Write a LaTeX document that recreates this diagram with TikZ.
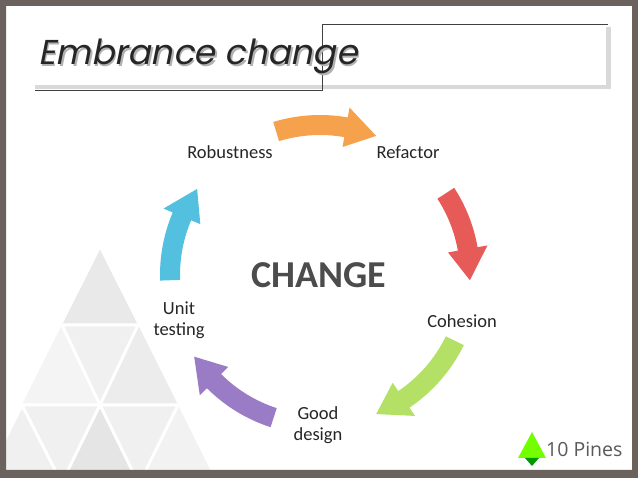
\documentclass[tikz,border=0pt]{standalone}
\usepackage{fontspec}
\usetikzlibrary{calc}
\setmainfont{Carlito}
\newfontfamily\titlefont[FakeSlant=0.2]{Poppins}
\newfontfamily\logofont{Open Sans}
\definecolor{framec}{HTML}{6B625E}
\definecolor{aor}{HTML}{F6A24C}
\definecolor{are}{HTML}{E65A58}
\definecolor{agr}{HTML}{B4E066}
\definecolor{apu}{HTML}{9A7CC6}
\definecolor{acy}{HTML}{52C0DE}
\begin{document}
\begin{tikzpicture}[x=1pt,y=-1pt,
  lbl/.style={font=\fontsize{18.5}{21}\selectfont, text=black!85, align=center, inner sep=0pt}]
\useasboundingbox (0,0) rectangle (638,478);
\fill[white] (0,0) rectangle (638,478);
% pyramid
\begin{scope}
\clip (6,6) rectangle (632,470);
\fill[gray!12] (100,250) -- (210,470) -- (-10,470) -- cycle;
\fill[gray!17] (100,250) -- (138,325) -- (62,325) -- cycle;
\fill[gray!9] (62,325) -- (100,405) -- (22,405) -- cycle;
\fill[gray!15] (138,325) -- (178,405) -- (100,405) -- cycle;
\fill[gray!20] (100,405) -- (132,470) -- (68,470) -- cycle;
\fill[gray!10] (178,405) -- (210,470) -- (146,470) -- cycle;
\draw[white,line width=3pt] (62,325) -- (138,325) (22,405) -- (178,405)
  (62,325) -- (100,405) -- (138,325) (22,405) -- (-10,470) (100,405) -- (68,470) (100,405) -- (132,470)
  (178,405) -- (146,470) (22,405) -- (55,470);
\end{scope}
% frame
\fill[framec, even odd rule] (0,0) rectangle (638,478) (6,6) rectangle (632,470);
% title box
\fill[gray!30] (606,27) rectangle (611,88);
\fill[gray!30] (35,85) rectangle (611,89);
\draw[black!75,line width=0.8pt] (608,24) -- (322,24) -- (322,90) -- (35,90);
\node[anchor=base west, inner sep=0pt, text=gray!60] (tsh) at (39.5,66.5) {\titlefont\fontsize{34.5}{40}\selectfont Embrance change};
\node[anchor=base west, inner sep=0pt, text=black!85] (title) at (38,65) {\titlefont\fontsize{34.5}{40}\selectfont Embrance change};
% arrows
\newcommand\barrow[3]{%
 \pgfmathsetmacro\ab{#2-12}%
 \fill[#3] (320,275) ++(#1:160) arc[start angle=#1,end angle=\ab,radius=160]
   -- ($(320,275)+(\ab:170)$) -- ($(320,275)+(#2:150)$) -- ($(320,275)+(\ab:130)$)
   -- ($(320,275)+(\ab:140)$) arc[start angle=\ab,end angle=#1,radius=140] -- cycle;}
\barrow{-107}{-68}{aor}
\barrow{-33}{2}{are}
\barrow{26}{68}{agr}
\barrow{108}{147}{apu}
\barrow{178}{215}{acy}
% labels
\node[lbl] (rob) at (230,152) {Robustness};
\node[lbl] (ref) at (408,152) {Refactor};
\node[lbl] (coh) at (462,321) {Cohesion};
\node[lbl] (good) at (318,425) {Good\\design};
\node[lbl] (unit) at (179,320) {Unit\\testing};
\node[inner sep=0pt, text=black!70] (chg) at (319,275) {\fontsize{38}{42}\selectfont\bfseries CHANGE};
% logo
\fill[green!55!yellow] (532,432) -- (546,458) -- (518,458) -- cycle;
\fill[green!60!black] (525,458) -- (539,458) -- (532,466) -- cycle;
\node[anchor=west, inner sep=0pt, text=black!65] (logo) at (546,449) {\logofont\fontsize{19.5}{22}\selectfont 10 Pines};
\end{tikzpicture}
\end{document}
